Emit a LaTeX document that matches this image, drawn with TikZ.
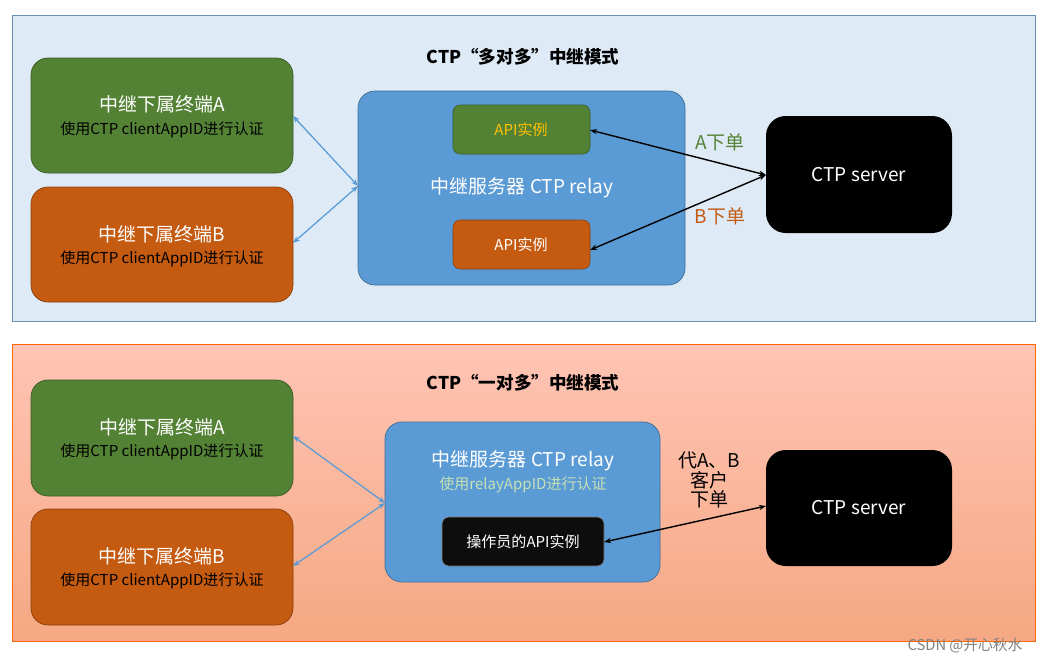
\documentclass[tikz,border=0pt]{standalone}
\usepackage{fontspec}
\setmainfont{Noto Sans CJK SC}
\usetikzlibrary{arrows.meta}
\definecolor{gfill}{HTML}{548235}
\definecolor{ofill}{HTML}{C55A11}
\definecolor{bfill}{HTML}{5B9BD5}
\definecolor{bpanel}{HTML}{DEEBF7}
\begin{document}
\begin{tikzpicture}[x=0.025cm,y=-0.025cm,
 box/.style={rounded corners=12pt,draw=#1!70!black,fill=#1,line width=0.5pt},
 big/.style={font=\fontsize{13.5}{16}\selectfont},
 sm/.style={font=\fontsize{10.7}{13}\selectfont},
 title/.style={font=\bfseries\fontsize{12.5}{15}\selectfont},
 barr/.style={{Stealth[length=5pt]}-{Stealth[length=5pt]},draw=bfill,line width=0.9pt},
 karr/.style={{Stealth[length=5pt]}-{Stealth[length=5pt]},draw=black,line width=1pt}]
\useasboundingbox (0,0) rectangle (1050,664);
% panels
\draw[draw=bfill!60!gray,fill=bpanel] (12,15) rectangle (1035,321);
\shade[top color=orange!15!pink!80!white,bottom color={rgb,255:red,245;green,168;blue,130}] (12,344) rectangle (1035,641);
\draw[draw=orange!80!red] (12,344) rectangle (1035,641);
% top
\node[title] (t1) at (523,57) {CTP“多对多”中继模式};
\path[box=gfill] (31,58) rectangle (293,173); \coordinate (A1) at (162,115);
\node[big,white] (A1a) at (162,104) {中继下属终端A};
\node[sm] (A1b) at (162,130) {使用CTP clientAppID进行认证};
\path[box=ofill] (31,187) rectangle (293,302);
\node[big,white] (B1a) at (162,234) {中继下属终端B};
\node[sm] (B1b) at (162,259) {使用CTP clientAppID进行认证};
\path[box=bfill] (358,91) rectangle (685,285);
\node[big,white] (R1) at (522,188) {中继服务器 CTP relay};
\path[rounded corners=5pt,draw=gfill!70!black,fill=gfill] (453,105) rectangle (590,154);
\node[sm,text={rgb,255:red,255;green,192;blue,0}] (P1) at (521,130) {API实例};
\path[rounded corners=5pt,draw=ofill!70!black,fill=ofill] (453,220) rectangle (590,269);
\node[sm,white] (P2) at (521,245) {API实例};
\path[rounded corners=14pt,fill=black] (766,116) rectangle (952,233);
\node[big,white] (S1) at (859,175) {CTP server};
\coordinate (a1) at (293,116); \coordinate (b1) at (293,243); \coordinate (r1) at (358,186);
\draw[barr] (a1) -- (r1); \draw[barr] (b1) -- (r1);
\coordinate (p1) at (590,130); \coordinate (p2) at (590,250); \coordinate (s1) at (766,175);
\draw[karr] (p1) -- (s1); \draw[karr] (p2) -- (s1);
\node[big,text=gfill] (L1) at (720,142) {A下单};
\node[big,text=ofill] (L2) at (720,216) {B下单};
% bottom
\node[title] (t2) at (523,383) {CTP“一对多”中继模式};
\path[box=gfill] (31,380) rectangle (293,496);
\node[big,white] (A2a) at (162,427) {中继下属终端A};
\node[sm] (A2b) at (162,452) {使用CTP clientAppID进行认证};
\path[box=ofill] (31,509) rectangle (293,625);
\node[big,white] (B2a) at (162,556) {中继下属终端B};
\node[sm] (B2b) at (162,581) {使用CTP clientAppID进行认证};
\path[box=bfill] (385,422) rectangle (660,582);
\node[big,white] (R2) at (523,461) {中继服务器 CTP relay};
\node[sm,text={rgb,255:red,197;green,224;blue,180}] (R2b) at (523,485) {使用relayAppID进行认证};
\path[rounded corners=5pt,draw=gray,fill=black!95] (442,517) rectangle (604,566);
\node[sm,white] (O) at (523,542) {操作员的API实例};
\path[rounded corners=14pt,fill=black] (766,450) rectangle (952,566);
\node[big,white] (S2) at (859,508) {CTP server};
\coordinate (a2) at (293,436); \coordinate (b2) at (293,566); \coordinate (r2) at (385,503);
\draw[barr] (a2) -- (r2); \draw[barr] (b2) -- (r2);
\coordinate (o2) at (604,542); \coordinate (s2) at (766,506);
\draw[karr] (o2) -- (s2);
\node[big,align=center] (L3) at (709,480) {代A、B\\[-2pt]客户\\[-2pt]下单};
\node[font=\fontsize{10.5}{12}\selectfont,text=gray] (W) at (965,646) {CSDN @开心秋水};
\end{tikzpicture}
\end{document}
